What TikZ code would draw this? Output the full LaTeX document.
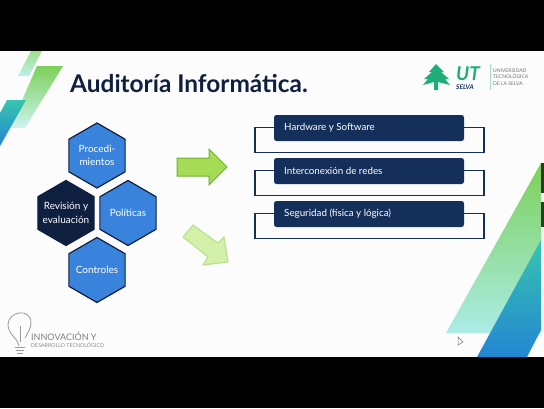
\documentclass[tikz,border=0pt]{standalone}
\usepackage{fontspec}
\setmainfont{Lato}
\usetikzlibrary{shapes.geometric}
\definecolor{navy}{HTML}{14305A}
\definecolor{inkdark}{HTML}{0E1F40}
\definecolor{hexblue}{HTML}{3A83DC}
\definecolor{leaf}{HTML}{1FAE78}
\definecolor{limegrad}{HTML}{7DD05A}
\definecolor{aquagrad}{HTML}{ABECE6}
\definecolor{tealgrad}{HTML}{38C4B0}
\definecolor{skygrad}{HTML}{2286D2}
\definecolor{arrowfill}{HTML}{A4DD55}
\definecolor{arrowedge}{HTML}{6FB02F}
\definecolor{palefill}{HTML}{D2F0A8}
\definecolor{paleedge}{HTML}{B5E08A}
\tikzset{
  hexcell/.style={regular polygon,regular polygon sides=6,shape border rotate=30,minimum size=65pt,inner sep=0pt,draw=inkdark,line width=1.2pt,fill=hexblue},
  hexlabel/.style={text=white,align=center,inner sep=0pt,font=\fontsize{10}{13.5}\selectfont},
  titlebar/.style={fill=navy,rounded corners=2.5pt,minimum width=190pt,minimum height=26pt,inner sep=0pt},
  framebar/.style={draw=navy,line width=1.2pt,minimum width=229pt,minimum height=25pt,inner sep=0pt},
  barlabel/.style={text=white,anchor=west,inner sep=0pt,font=\fontsize{9.8}{11}\selectfont},
  greyline/.style={draw=black!40,line width=0.8pt}
}
\begin{document}
\begin{tikzpicture}[x=1pt,y=-1pt]
\useasboundingbox (0,0) rectangle (544,408);
\fill[white!99!black] (0,51) rectangle (544,357);
\fill[black] (0,0) rectangle (544,51);
\fill[black] (0,357) rectangle (544,408);
% corner strips
\shade[top color=limegrad!70,bottom color=aquagrad!80] (31,51)--(42,51)--(29,76)--(18,76)--cycle;
\shade[top color=limegrad,bottom color=aquagrad!60] (37,66)--(63,66)--(25,128)--(10,128)--cycle;
\shade[top color=tealgrad,bottom color=skygrad] (7,100)--(26,100)--(0,146)--(0,113)--cycle;
\shade[top color=limegrad,bottom color=aquagrad] (541,163)--(541,333)--(446,333)--cycle;
\shade[top color=tealgrad,bottom color=skygrad] (541,240)--(541,330)--(527,357)--(477,357)--cycle;
\fill[black!80] (541,163) rectangle (544,193);
\fill[black!80] (541,202) rectangle (544,227);
% title
\node[anchor=base west,inner sep=0pt,text=inkdark,font=\fontsize{24.4}{26}\bfseries\selectfont] (title) at (70,92) {Auditoría Informática.};
% hexagons
\foreach \n/\x/\y/\c/\t in {proc/97/155.5/hexblue/Procedi-\\mientos,rev/66/213/inkdark/Revisión y\\evaluación,pol/128/213/hexblue/Políticas,ctrl/97/270/hexblue/Controles}{
  \node[hexcell,fill=\c] (\n) at (\x,\y) {};
  \node[hexlabel] (label\n) at (\n.center) {\t};
}
% arrows
\draw[draw=arrowedge,line width=1pt,fill=arrowfill] (177,158)--(209,158)--(209,149)--(227,167)--(209,185)--(209,176)--(177,176)--cycle;
\draw[draw=paleedge,line width=1pt,fill=palefill] (193,225)--(218,243)--(224,237)--(228,262)--(203,265)--(208,257)--(183,237)--cycle;
% bars
\foreach \n/\y/\t in {hw/128/Hardware y Software,net/171/Interconexión de redes,sec/214/Seguridad (física y lógica)}{
  \node[framebar] (frame\n) at (369.5,\y+12) {};
  \node[titlebar] (bar\n) at (369,\y) {};
  \node[barlabel] (label\n) at (284,\y-0.5) {\t};
}
% logo
\fill[leaf] (436,64)--(444,72)--(441,72)--(449,79)--(445,79)--(450,85)--(438,82)--(438,90)--(434,90)--(434,82)--(423,85)--(428,79)--(424,79)--(432,72)--(429,72)--cycle;
\node[anchor=base west,inner sep=0pt,text=leaf,font=\fontsize{19}{19}\bfseries\itshape\selectfont] (ut) at (456,80.5) {UT};
\node[anchor=base west,inner sep=0pt,text=navy,font=\fontsize{6.5}{7}\bfseries\itshape\selectfont] (selva) at (456,89) {SELVA};
\draw[leaf!40,line width=0.7pt] (490,64)--(490,90);
\node[anchor=west,inner sep=0pt,text=black!55,align=left,font=\fontsize{5}{6.4}\selectfont] (uni) at (493,77) {UNIVERSIDAD\\TECNOLÓGICA\\DE LA SELVA};
% bulb
\draw[greyline] (19,346) .. controls (18,338) and (8,335) .. (8,324) .. controls (9,311) and (30,308) .. (31,322) .. controls (31,329) and (28,332) .. (25,338);
\draw[greyline] (15,347)--(25,347) (16,350)--(24,350) (17,353)--(23,353) (20,326)--(20,342);
\node[anchor=west,inner sep=0pt,text=black!50,font=\fontsize{9}{10}\selectfont] (inno) at (31,336) {INNOVACIÓN Y};
\node[anchor=west,inner sep=0pt,text=black!45,font=\fontsize{5.3}{6}\selectfont] (desa) at (31,345.5) {DESARROLLO TECNOLÓGICO};
% cursor
\fill[white] (458,337)--(458,345)--(463,342)--cycle;
\draw[black!55,line width=0.5pt] (458,337)--(458,345)--(463,342)--cycle;
\end{tikzpicture}
\end{document}
